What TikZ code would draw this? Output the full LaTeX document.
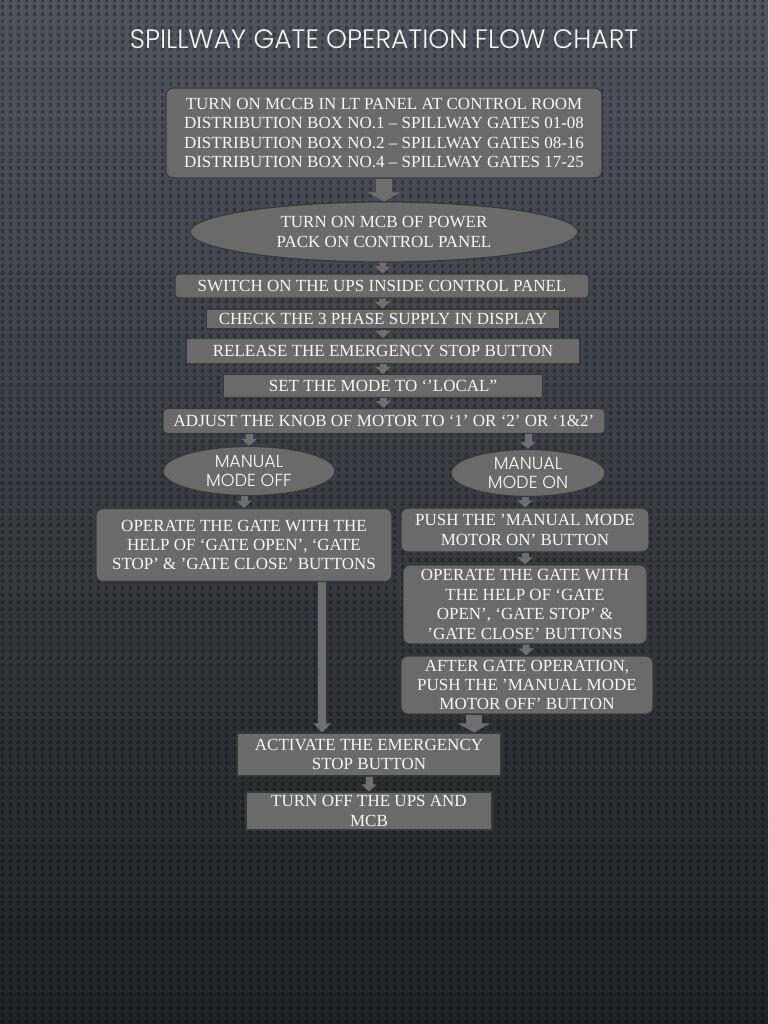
\documentclass[tikz,border=0pt]{standalone}
\usepackage{fontspec}
\setmainfont{Liberation Serif}
\newfontfamily\headfont{Poppins Light}
\usetikzlibrary{shapes.geometric,arrows.meta,patterns}

\definecolor{bgtop}{HTML}{50555E}
\definecolor{bgbot}{HTML}{202124}
\definecolor{boxgray}{HTML}{6A6A6A}
\definecolor{boxline}{HTML}{37383B}
\definecolor{arrowgray}{HTML}{6E6E6E}

% Lochblech-Muster
\pgfdeclarepatternformonly{perfo}{\pgfpoint{0pt}{0pt}}{\pgfpoint{8pt}{7pt}}{\pgfpoint{8pt}{7pt}}{%
    \pgfpathellipse{\pgfpoint{4pt}{3.5pt}}{\pgfpoint{2pt}{0pt}}{\pgfpoint{0pt}{2.7pt}}%
    \pgfusepath{fill}}

\begin{document}
\begin{tikzpicture}[x=1pt, y=-1pt,
        font=\fontsize{17}{19.4}\selectfont,
        every node/.style={text=white!94!gray, align=center, inner sep=0pt},
        rbox/.style={draw=boxline, line width=1.2pt, fill=boxgray, rounded corners=7pt},
        sbox/.style={draw=boxline, line width=1.2pt, fill=boxgray},
        oval/.style={ellipse, draw=boxline, line width=1.2pt, fill=boxgray},
        modefont/.style={font=\headfont\fontsize{17.5}{19}\selectfont},
        flow/.style={draw=arrowgray, line width=7pt, -{Triangle[length=7pt, width=15pt]}},
        bigflow/.style={draw=arrowgray, line width=16pt, -{Triangle[length=9pt, width=32pt]}}
        ]
    % Hintergrund
    \shade[top color=bgtop, bottom color=bgbot] (0,0) rectangle (768,1024);
    \fill[pattern=perfo, pattern color=black, opacity=0.3] (0,0) rectangle (768,1024);
    \useasboundingbox (0,0) rectangle (768,1024);

    \node[font=\headfont\fontsize{26.6}{30}\selectfont] (title) at (384,39) {SPILLWAY GATE OPERATION FLOW CHART};

    % Schritte
    \node[rbox, minimum width=436pt, minimum height=90pt] (mccb) at (384,133)
        {TURN ON MCCB IN LT PANEL AT CONTROL ROOM\\
         DISTRIBUTION BOX NO.1 – SPILLWAY GATES 01-08\\
         DISTRIBUTION BOX NO.2 – SPILLWAY GATES 08-16\\
         DISTRIBUTION BOX NO.4 – SPILLWAY GATES 17-25};
    \node[oval, minimum width=388pt, minimum height=60pt] (mcb) at (384,232)
        {TURN ON MCB OF POWER\\ PACK ON CONTROL PANEL};
    \node[rbox, rounded corners=4pt, minimum width=414pt, minimum height=24pt] (ups) at (382,286)
        {SWITCH ON THE UPS INSIDE CONTROL PANEL};
    \node[sbox, minimum width=353pt, minimum height=20pt] (phase) at (383,319)
        {CHECK THE 3 PHASE SUPPLY IN DISPLAY};
    \node[sbox, minimum width=394pt, minimum height=25pt] (estop) at (383,351)
        {RELEASE THE EMERGENCY STOP BUTTON};
    \node[sbox, minimum width=319pt, minimum height=23pt] (local) at (383,386)
        {SET THE MODE TO ‘’LOCAL”};
    \node[rbox, rounded corners=4pt, minimum width=442pt, minimum height=25pt] (knob) at (384,421)
        {ADJUST THE KNOB OF MOTOR TO ‘1’ OR ‘2’ OR ‘1\&2’};

    % Zweige
    \node[oval, modefont, minimum width=172pt, minimum height=49pt] (off) at (249,471)
        {MANUAL\\ MODE OFF};
    \node[oval, modefont, minimum width=154pt, minimum height=47pt] (on) at (528,473)
        {MANUAL\\ MODE ON};
    \node[rbox, minimum width=296pt, minimum height=73pt] (opleft) at (244,545)
        {OPERATE THE GATE WITH THE\\ HELP OF ‘GATE OPEN’, ‘GATE\\ STOP’ \& ’GATE CLOSE’ BUTTONS};
    \node[rbox, minimum width=248pt, minimum height=44pt] (moton) at (525,530)
        {PUSH THE ’MANUAL MODE\\ MOTOR ON’ BUTTON};
    \node[rbox, minimum width=244pt, minimum height=79pt] (opright) at (525,604.5)
        {OPERATE THE GATE WITH\\ THE HELP OF ‘GATE\\ OPEN’, ‘GATE STOP’ \&\\ ’GATE CLOSE’ BUTTONS};
    \node[rbox, minimum width=252pt, minimum height=58pt] (motoff) at (527,685)
        {AFTER GATE OPERATION,\\ PUSH THE ’MANUAL MODE\\ MOTOR OFF’ BUTTON};

    % Abschluss
    \node[sbox, minimum width=264pt, minimum height=43pt] (activate) at (369,754.5)
        {ACTIVATE THE EMERGENCY\\ STOP BUTTON};
    \node[sbox, minimum width=246pt, minimum height=38pt] (final) at (369,811)
        {TURN OFF THE UPS AND\\ MCB};

    % Pfeile
    \draw[bigflow] (mccb) -- (mcb);
    \draw[flow] (mcb) -- (ups);
    \draw[flow] (ups) -- (phase);
    \draw[flow] (phase) -- (estop);
    \draw[flow] (estop) -- (local);
    \draw[flow] (local) -- (knob);
    \draw[flow] (off.north |- knob.south) -- (off);
    \draw[flow] (on.north |- knob.south) -- (on);
    \draw[flow] (opleft.north |- off.south) -- (opleft);
    \draw[flow] (moton.north |- on.south) -- (moton);
    \draw[flow] (moton) -- (opright);
    \draw[flow] (opright) -- (motoff);
    \draw[flow, line width=8pt, -{Triangle[length=9pt, width=17pt]}] ([xshift=78pt]opleft.south) -- ([xshift=78pt]opleft.south |- activate.north);
    \draw[bigflow] ([xshift=-53pt]motoff.south) -- ([xshift=-53pt]motoff.south |- activate.north);
    \draw[flow] (activate) -- (final);
\end{tikzpicture}
\end{document}
